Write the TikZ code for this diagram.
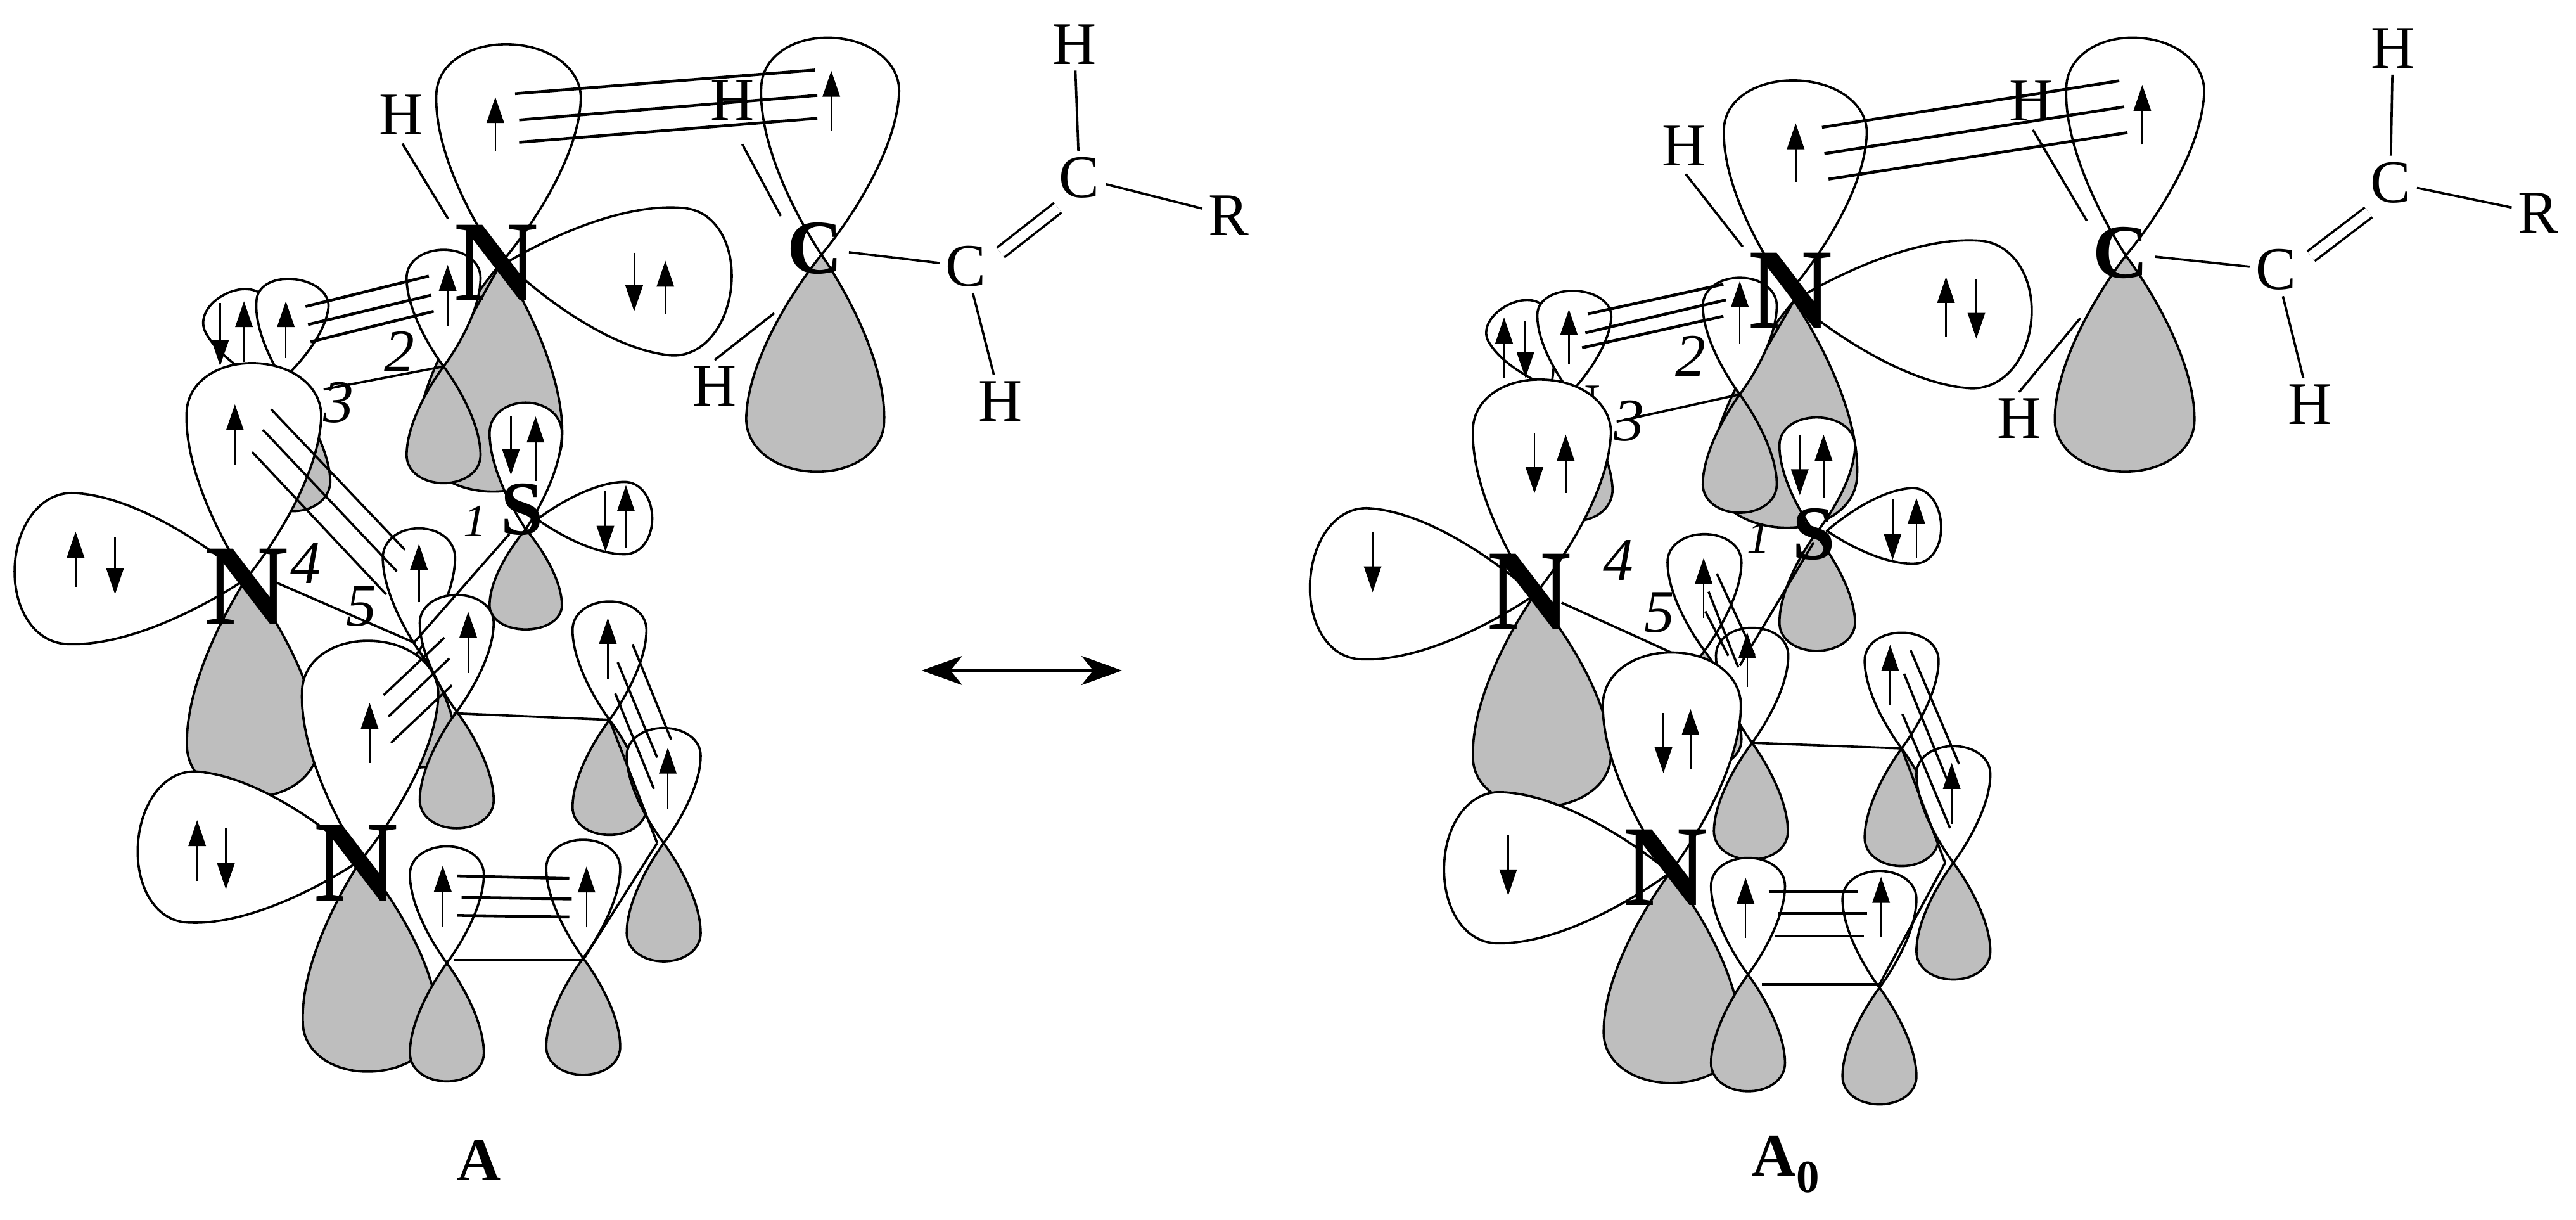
\documentclass[tikz,border=0pt]{standalone}
\usepackage{fontspec}
\setmainfont{Liberation Serif}
\usetikzlibrary{arrows.meta,calc}
\definecolor{orbgrey}{RGB}{190,190,190}
\tikzset{
  orbwhite/.style={draw=black,line width=0.8pt,fill=white,line join=round},
  orbdark/.style={draw=black,line width=0.8pt,fill=orbgrey,line join=round},
  bond/.style={draw=black,line width=0.8pt},
  pibond/.style={draw=black,line width=1pt},
  spinline/.style={draw=black,line width=0.55pt,-{Triangle[length=9pt,width=6pt]}},
  resarrow/.style={draw=black,line width=1.5pt,{Stealth[length=14pt,width=10pt,inset=4pt]}-{Stealth[length=14pt,width=10pt,inset=4pt]}},
  atomsm/.style={font=\fontsize{21}{24}\selectfont,inner sep=2pt},
  atombig/.style={font=\bfseries\fontsize{40}{44}\selectfont,inner sep=2pt},
  atommid/.style={font=\bfseries\fontsize{26.6}{30}\selectfont,inner sep=2pt},
  ringnum/.style={font=\itshape\fontsize{21}{24}\selectfont,inner sep=0pt},
  ringnumsm/.style={font=\itshape\fontsize{16}{18}\selectfont,inner sep=0pt},
  panellabel/.style={font=\bfseries\fontsize{21}{24}\selectfont,inner sep=0pt},
}
% #1 style, (#2,#3) tip, (#4,#5) far end, #6 half width
\newcommand\orb[6]{%
  \pgfmathsetmacro\oL{veclen(#4-#2,#5-#3)}%
  \pgfmathsetmacro\oA{atan2(-(#4-#2),-(#5-#3))}%
  \path[#1,shift={(#2,#3)},rotate=\oA]
    (0,0) .. controls ({0.42*#6},{-0.18*\oL}) and ({#6},{-0.50*\oL}) .. ({#6},{-0.76*\oL})
    .. controls ({#6},{-0.90*\oL}) and ({0.56*#6},{-\oL}) .. (0,{-\oL})
    .. controls ({-0.56*#6},{-\oL}) and ({-#6},{-0.90*\oL}) .. ({-#6},{-0.76*\oL})
    .. controls ({-#6},{-0.50*\oL}) and ({-0.42*#6},{-0.18*\oL}) .. cycle;}
\newcommand\pX{0}
\newcommand\spinT[3]{\draw[spinline] ({\pX+#1/2},{#2*0.246}) -- ({\pX+#1/2},{#3*0.246});}
\newcommand\spinB[3]{\draw[spinline] ({\pX+#1/2},{347+#2*0.2521}) -- ({\pX+#1/2},{347+#3*0.2521});}
\begin{document}
\begin{tikzpicture}[x=0.02cm,y=-0.02cm]
\useasboundingbox (0,0) rectangle (1568,742.35);
% ======================= PANEL A =======================
\coordinate (aN1) at (305,160);
\coordinate (aC2) at (270,223);
\coordinate (aC3) at (197,237);
\coordinate (aC6) at (276,434);
\coordinate (aC7) at (371,438);
\coordinate (aC8) at (400,513);
\coordinate (aC9) at (276,584);
\coordinate (aC10) at (355,584);
\coordinate (aS) at (310,325);
\coordinate (aC5) at (252,391);
\orb{orbdark}{305}{160}{296}{299}{44}
\orb{orbdark}{176}{236}{180}{311}{22}
\orb{orbdark}{270}{223}{270}{294}{22.5}
\orb{orbwhite}{308}{160}{445}{175}{45}
\orb{orbwhite}{305}{160}{311}{27}{44}
\draw[bond] (aN1) -- (aC2);
\orb{orbwhite}{270}{223}{270}{152}{22.5}
\orb{orbdark}{500}{155}{495}{287}{42}
\orb{orbwhite}{500}{155}{507}{23}{42}
\orb{orbwhite}{320}{322}{320}{245}{22}
\orb{orbwhite}{327}{316}{397}{315}{22}
\orb{orbdark}{320}{322}{320}{383}{22}
\orb{orbwhite}{165}{235}{137}{179}{21}
\orb{orbwhite}{172}{231}{180}{170}{22}
\orb{orbdark}{255}{396}{255}{467}{22}
\orb{orbwhite}{255}{396}{255}{321.5}{22}
\orb{orbwhite}{278}{433}{278}{362}{22.5}
\orb{orbdark}{150}{352}{155}{485}{40}
\orb{orbwhite}{150}{352}{9}{344}{46}
\orb{orbwhite}{150}{352}{156}{221}{41}
\orb{orbdark}{220}{523}{227}{652}{41}
\orb{orbwhite}{220}{523}{84}{513}{46}
\orb{orbwhite}{220}{523}{227}{390}{41.5}
\orb{orbdark}{278}{433}{278}{504}{22.5}
\orb{orbdark}{371}{438}{371}{508}{22.5}
\orb{orbwhite}{371}{438}{371}{366}{22.5}
\orb{orbdark}{404}{513}{404}{585}{22.5}
\orb{orbwhite}{404}{513}{404}{443}{22.5}
\orb{orbdark}{272}{586}{272}{658}{22.5}
\orb{orbwhite}{272}{586}{272}{515}{22.5}
\orb{orbdark}{355}{583}{355}{654}{22.5}
\orb{orbwhite}{355}{583}{355}{511}{22.5}
% sigma bonds
\draw[bond] (aC2) -- (aC3);
\draw[bond] (aC6) -- (aC7);
\draw[bond] (aC7) -- (aC8);
\draw[bond] (aC8) -- (aC10);
\draw[bond] (aC9) -- (aC10);
\draw[bond] (aS) -- (aC5);
\draw[bond] (166,353.5) -- (aC5);
% pi lines
\draw[pibond] (313.5,57) -- (496,42.6);
\draw[pibond] (316,73) -- (497.5,58);
\draw[pibond] (316,86.6) -- (497.5,72);
\draw[pibond] (186,186.5) -- (261,168);
\draw[pibond] (187.5,197.5) -- (262.5,179.6);
\draw[pibond] (189,208) -- (264,189.4);
\draw[bond] (165,249) -- (246.5,334.6);
\draw[bond] (160,261.5) -- (241.5,347.6);
\draw[bond] (153.5,275) -- (235,361.6);
\draw[bond] (233.5,423) -- (270.5,388);
\draw[bond] (236.5,436) -- (273.5,400.7);
\draw[bond] (238,452) -- (275,417);
\draw[bond] (385,392) -- (408.5,450);
\draw[bond] (376,403) -- (400,461);
\draw[bond] (374.5,422) -- (398,480);
\draw[pibond] (278.5,533) -- (346.5,534.6);
\draw[pibond] (281,546) -- (348,547);
\draw[pibond] (278.5,557) -- (346.5,558);
% spins
\renewcommand\pX{0}
\spinT{603}{375}{240}\spinT{1012}{325}{175}
\spinT{772}{625}{770}\spinT{810}{778}{645}
\spinT{545}{805}{655}\spinT{348}{885}{745}
\spinT{268}{750}{905}\spinT{297}{895}{745}
\spinT{286}{1150}{1000}
\spinT{622}{1030}{1175}\spinT{652}{1190}{1030}
\spinT{737}{1215}{1365}\spinT{762}{1355}{1200}
\spinT{92}{1452}{1315}\spinT{140}{1328}{1470}
\spinT{510}{1490}{1345}
\spinB{570}{248}{100}\spinB{450}{465}{320}
\spinB{740}{262}{115}\spinB{813}{575}{428}
\spinB{240}{750}{603}\spinB{275}{623}{770}
\spinB{539}{860}{713}\spinB{714}{862}{715}
% atoms
\node[atombig] (aNa) at (302,160) {N};
\node[atombig] (aNb) at (150,357) {N};
\node[atombig] (aNc) at (217,525) {N};
\node[atommid] (aCr) at (496,151) {C};
\node[atommid] (aSu) at (318,310) {S};
\node[atomsm] (aHa) at (244,70) {H};
\node[atomsm] (aHb) at (446,61) {H};
\node[atomsm] (aHc) at (435,235) {H};
\node[atomsm] (aHd) at (654,27) {H};
\node[atomsm] (aHe) at (609,244) {H};
\node[atomsm] (aCu) at (657,108) {C};
\node[atomsm] (aCv) at (588,162) {C};
\node[atomsm] (aR) at (748,131) {R};
\node[ringnum] (an2) at (243,214) {2};
\node[ringnum] (an3) at (206,245) {3};
\node[ringnumsm] (an1) at (289,317) {1};
\node[ringnum] (an4) at (186,343) {4};
\node[ringnum] (an5) at (220,369) {5};
\node[panellabel] (aLab) at (291.5,706) {A};
\draw[bond,shorten <=1pt] (aHa.south) -- (aNa.north west);
\draw[bond,shorten <=7pt] (aHb.south) -- (aCr.north west);
\draw[bond] (aHc.north) -- ([shift={(-4,20)}]aCr.south west);
\draw[bond] (aCr) -- (aCv);
\draw[line width=0.8pt,double,double distance=3.4pt,shorten <=12.3pt,shorten >=12.4pt] ([shift={(4,5)}]aCv.center) -- ([shift={(4,5)}]aCu.center);
\draw[bond] (aHd) -- (aCu);
\draw[bond] (aCu) -- (aR);
\draw[bond] (aCv) -- (aHe);
% resonance arrow
\coordinate (resL) at (561,408);
\coordinate (resR) at (683,408);
\draw[resarrow] (resL) -- (resR);
% ======================= PANEL B =======================
\node[ringnumsm] (bn1) at (1070.5,327) {1};
\node[atomsm] (bNh) at (961,247) {N};
\coordinate (bN1) at (1092,183);
\coordinate (bC2) at (1059,240);
\coordinate (bC3) at (984,256.6);
\coordinate (bC6) at (1066.5,452);
\coordinate (bC7) at (1157.5,455.4);
\coordinate (bC8) at (1184,525);
\coordinate (bC9) at (1072.5,599);
\coordinate (bC10) at (1144,599);
\coordinate (bS) at (1104,330);
\coordinate (bC5) at (1059,405);
\orb{orbdark}{1092}{183}{1084}{321}{44.5}
\orb{orbdark}{956}{239}{960}{317}{22.5}
\orb{orbdark}{1059}{240}{1059}{312}{22.5}
\orb{orbwhite}{1092}{183}{1236.5}{194}{45}
\orb{orbwhite}{1089}{178}{1094}{49}{43.5}
\draw[bond] (bN1) -- (bC2);
\orb{orbwhite}{1059}{240}{1059}{169}{22.5}
\orb{orbdark}{1294}{155.5}{1293}{287}{42.5}
\orb{orbwhite}{1294}{155.5}{1301.5}{23}{42}
\orb{orbwhite}{1105}{325}{1106.5}{254}{23}
\orb{orbwhite}{1112}{323}{1181.5}{319}{23}
\orb{orbdark}{1105}{325}{1106.5}{396}{23}
\orb{orbwhite}{944}{236}{917}{186}{20}
\orb{orbwhite}{956}{239}{959}{177}{22.5}
\orb{orbdark}{1037.5}{396}{1037.5}{467}{22.5}
\orb{orbwhite}{1037.5}{396}{1037.5}{325}{22.5}
\orb{orbwhite}{1066.5}{452}{1066.5}{382}{22}
\orb{orbdark}{934}{362}{940}{491}{42}
\orb{orbwhite}{934}{362}{797.5}{353}{46}
\orb{orbwhite}{934}{362}{940}{231}{42}
\orb{orbdark}{1016.5}{531}{1018}{659}{41.5}
\orb{orbwhite}{1016.5}{531}{879}{527}{46}
\draw[bond] (950.5,366.7) -- (1037,406);
\orb{orbwhite}{1016.5}{531}{1018}{397}{42}
\orb{orbdark}{1066.5}{452}{1065.5}{523}{22.5}
\orb{orbdark}{1157.5}{455.4}{1157.5}{527}{22.5}
\orb{orbwhite}{1157.5}{455.4}{1157.5}{385}{22.5}
\orb{orbdark}{1189}{525}{1189}{596}{22.5}
\orb{orbwhite}{1189}{525}{1189}{454}{22.5}
\orb{orbdark}{1064}{593}{1064}{664}{22.5}
\orb{orbwhite}{1064}{593}{1064}{522}{22.5}
\orb{orbdark}{1144}{601}{1144}{672}{22.5}
\orb{orbwhite}{1144}{601}{1144}{530}{22.5}
% sigma bonds
\draw[bond] (bC2) -- (bC3);
\draw[bond] (bC6) -- (bC7);
\draw[bond] (bC7) -- (bC8);
\draw[bond] (bC8) -- (bC10);
\draw[bond] (bC9) -- (bC10);
\draw[bond] (bS) -- (bC5);
% pi lines
\draw[pibond] (1109,77.5) -- (1290,49.2);
\draw[pibond] (1110.5,93.5) -- (1293,65);
\draw[pibond] (1113,109) -- (1295,80.7);
\draw[pibond] (966.5,191) -- (1049,173);
\draw[pibond] (965,202.5) -- (1050.5,182.5);
\draw[pibond] (963,211.6) -- (1049,192.4);
\draw[bond] (1045,349) -- (1068,399);
\draw[bond] (1040,360) -- (1058,406);
\draw[bond] (1038,372) -- (1052,399);
\draw[bond] (1163,395.7) -- (1192.5,465);
\draw[bond] (1159,410) -- (1187,479);
\draw[bond] (1158,434.5) -- (1187,504);
\draw[pibond] (1076.5,542.6) -- (1130.5,542.6);
\draw[pibond] (1082.5,555.7) -- (1136.5,555.7);
\draw[pibond] (1080.5,569.6) -- (1134.5,569.6);
% spins
\renewcommand\pX{784}
\spinT{618}{450}{305}\spinT{1040}{358}{210}
\spinT{801}{833}{685}\spinT{838}{690}{838}
\spinT{550}{850}{695}\spinT{342}{900}{765}
\spinT{263}{935}{785}\spinT{289}{793}{935}
\spinT{300}{1072}{1220}\spinT{338}{1220}{1075}
\spinT{623}{1075}{1225}\spinT{652}{1230}{1075}
\spinT{736}{1235}{1385}\spinT{765}{1380}{1232}
\spinT{103}{1315}{1465}
\spinB{506}{115}{-30}
\spinB{559}{282}{150}
\spinB{457}{345}{490}\spinB{490}{480}{335}
\spinB{733}{325}{180}\spinB{808}{612}{465}
\spinB{268}{640}{785}
\spinB{557}{888}{742}\spinB{722}{885}{740}
% atoms
\node[atombig] (bNa) at (1090,177) {N};
\node[atombig] (bNb) at (931,360) {N};
\node[atombig] (bNc) at (1014,528) {N};
\node[atommid] (bCr) at (1291,154) {C};
\node[atommid] (bSu) at (1104,325) {S};
\node[atomsm] (bHa) at (1025,88.6) {H};
\node[atomsm] (bHb) at (1236.5,61.5) {H};
\node[atomsm] (bHc) at (1229,254.6) {H};
\node[atomsm] (bHd) at (1456.5,29.5) {H};
\node[atomsm] (bHe) at (1406,246) {H};
\node[atomsm] (bCu) at (1455,111) {C};
\node[atomsm] (bCv) at (1385.5,164) {C};
\node[atomsm] (bR) at (1545,129.6) {R};
\node[ringnum] (bn2) at (1029,216.5) {2};
\node[ringnum] (bn3) at (991.5,256) {3};
\node[ringnum] (bn4) at (985,341) {4};
\node[ringnum] (bn5) at (1010,372.7) {5};
\node[panellabel] (bLab) at (1087,708.5) {A\raisebox{-0.28em}{\fontsize{16}{18}\selectfont 0}};
\draw[bond,shorten <=1pt] (bHa.south) -- (bNa.north west);
\draw[bond,shorten <=1pt] (bHb.south) -- (bCr.north west);
\draw[bond] (bHc.north) -- ([shift={(-4,20)}]bCr.south west);
\draw[bond] (bCr) -- (bCv);
\draw[line width=0.8pt,double,double distance=3.4pt,shorten <=12.3pt,shorten >=12.4pt] ([shift={(4,5)}]bCv.center) -- ([shift={(4,5)}]bCu.center);
\draw[bond] (bHd) -- (bCu);
\draw[bond] (bCu) -- (bR);
\draw[bond] (bCv) -- (bHe);
\end{tikzpicture}
\end{document}
